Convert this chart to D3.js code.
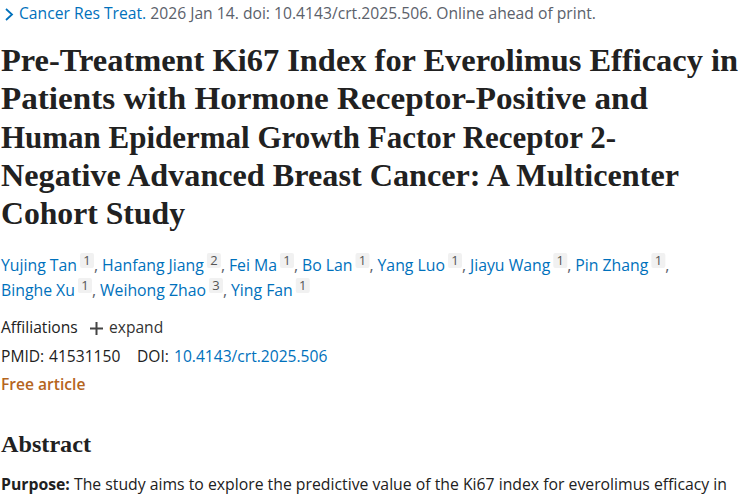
<!DOCTYPE html>
<html><head><meta charset="utf-8">
<script src="https://cdn.jsdelivr.net/npm/d3@7/dist/d3.min.js"></script>
<style>html,body{margin:0;padding:0;background:#fff}svg{display:block}</style>
</head><body><div id="c"></div>
<script>
const citationJournal = "Cancer Res Treat.";
const citationRest = " 2026 Jan 14. doi: 10.4143/crt.2025.506. Online ahead of print.";
const titleLines = [
 "Pre-Treatment Ki67 Index for Everolimus Efficacy in",
 "Patients with Hormone Receptor-Positive and",
 "Human Epidermal Growth Factor Receptor 2-",
 "Negative Advanced Breast Cancer: A Multicenter",
 "Cohort Study"];
const titleWidths = [737, 647, 615, 678, 184];
const authorsLine1 = ["Yujing Tan","Hanfang Jiang","Fei Ma","Bo Lan","Yang Luo","Jiayu Wang","Pin Zhang"];
const affilLine1 = ["1","2","1","1","1","1","1"];
const authorsLine2 = ["Binghe Xu","Weihong Zhao","Ying Fan"];
const affilLine2 = ["1","3","1"];
const abstractPurposeLabel = "Purpose:";
const abstractPurposeText = " The study aims to explore the predictive value of the Ki67 index for everolimus efficacy in";

const W=750,H=500;
const BLUE="#0071bc", DARK="#212121", GREY="#5b616b", ORANGE="#b5651d";
const SANS="'Open Sans','Noto Sans',sans-serif", SERIF="'Liberation Serif','DejaVu Serif',serif";
const svg=d3.select("#c").append("svg").attr("width",W).attr("height",H).attr("viewBox",`0 0 ${W} ${H}`);

// citation line
svg.append("path").attr("d","M6 9L12 14.5L6 20").attr("fill","none").attr("stroke",BLUE).attr("stroke-width",1.8);
const cite=svg.append("text").attr("x",19).attr("y",19).attr("font-family",SANS).attr("font-size",15.5)
 .attr("textLength",577).attr("lengthAdjust","spacingAndGlyphs");
cite.append("tspan").attr("fill",BLUE).text(citationJournal);
cite.append("tspan").attr("fill",GREY).attr("xml:space","preserve").text(citationRest);

// title
const yTitle=d3.scaleLinear().domain([0,4]).range([71,224]);
svg.selectAll("text.title").data(titleLines).join("text").attr("class","title")
 .attr("x",1).attr("y",(d,i)=>yTitle(i)).attr("font-family",SERIF).attr("font-weight",700).attr("font-size",31)
 .attr("fill",DARK).attr("textLength",(d,i)=>titleWidths[i]).attr("lengthAdjust","spacingAndGlyphs").text(d=>d);

// authors
function authors(names,aff,y,trailing){
 let x=1;
 names.forEach((n,i)=>{
  const t=svg.append("text").attr("x",x).attr("y",y).attr("font-family",SANS).attr("font-size",15.8).attr("fill",BLUE).text(n);
  x+=t.node().getComputedTextLength()+3;
  svg.append("rect").attr("x",x).attr("y",y-18).attr("width",14).attr("height",15).attr("rx",2).attr("fill","#f1f1f1");
  svg.append("text").attr("x",x+7).attr("y",y-6).attr("text-anchor","middle").attr("font-family",SANS).attr("font-size",13).attr("fill","#555").text(aff[i]);
  x+=14;
  if(i<names.length-1||trailing){
   svg.append("text").attr("x",x).attr("y",y).attr("font-family",SANS).attr("font-size",15.8).attr("fill",GREY).text(",");
   x+=8;
  }
 });
}
authors(authorsLine1,affilLine1,271,true);
authors(authorsLine2,affilLine2,296,false);

// meta
const T=(txt,x,y,fill,extra={})=>{const s=svg.append("text").attr("x",x).attr("y",y).attr("font-family",SANS).attr("font-size",15.6).attr("fill",fill).text(txt);
 Object.entries(extra).forEach(([k,v])=>s.attr(k,v));return s;};
T("Affiliations",1,333,DARK);
svg.append("path").attr("d","M90 328.5H103M96.5 322V335").attr("stroke","#444").attr("stroke-width",2);
T("expand",109,333,"#333");
T("PMID:",1,362,DARK);
T("41531150",49,362,DARK);
T("DOI:",137,362,DARK);
T("10.4143/crt.2025.506",174,362,BLUE);
T("Free article",1,390,ORANGE,{"font-weight":600});

// abstract
svg.append("text").attr("x",1).attr("y",452).attr("font-family",SERIF).attr("font-weight",700).attr("font-size",24).attr("fill",DARK)
 .attr("textLength",90).attr("lengthAdjust","spacingAndGlyphs").text("Abstract");
const ab=svg.append("text").attr("x",1).attr("y",490).attr("font-family",SANS).attr("font-size",15.5).attr("fill",DARK)
 .attr("textLength",726).attr("lengthAdjust","spacingAndGlyphs").attr("xml:space","preserve");
ab.append("tspan").attr("font-weight",700).text(abstractPurposeLabel);
ab.append("tspan").text(abstractPurposeText);
</script></body></html>
